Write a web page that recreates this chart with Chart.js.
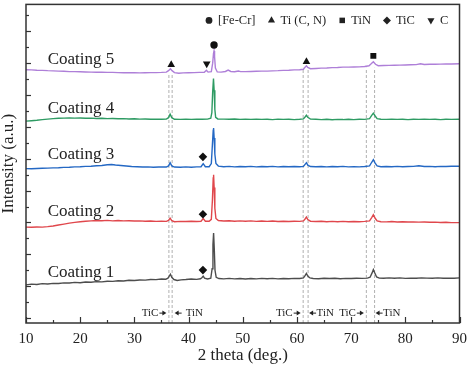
<!DOCTYPE html>
<html>
<head>
<meta charset="utf-8">
<script src="https://cdn.jsdelivr.net/npm/chart.js@4.4.1/dist/chart.umd.min.js"></script>
<style>
  html, body { margin: 0; padding: 0; background: #fff; }
  canvas { display: block; }
</style>
</head>
<body>
<canvas id="xrdChart" width="474" height="366"></canvas>
<script>
// XRD patterns, [2theta, intensity (a.u., stacked offset)]
const coating1 = [[10,2.08],[11,2.13],[12,2.11],[13,2.16],[14,2.14],[15,2.18],[16,2.17],[17,2.21],[18,2.2],[19,2.24],[20,2.22],[21,2.26],[22,2.25],[23,2.29],[24,2.27],[25,2.31],[26,2.3],[27,2.34],[28,2.33],[29,2.37],[30,2.36],[31,2.39],[32,2.38],[33,2.42],[34,2.41],[35,2.45],[35.8,2.44],[36.2,2.5],[36.45,2.64],[36.65,2.75],[36.9,2.56],[37.3,2.42],[37.9,2.36],[38.6,2.4],[39.5,2.42],[40.5,2.45],[41.5,2.43],[42.2,2.47],[42.5,2.55],[42.7,2.63],[42.95,2.5],[43.5,2.45],[44.1,2.5],[44.35,3.1],[44.5,4.6],[44.62,5.34],[44.74,4.4],[44.88,3.0],[45.1,2.56],[45.6,2.48],[46.5,2.46],[47.5,2.49],[48.5,2.46],[49.5,2.48],[50.5,2.45],[51.5,2.48],[52.5,2.46],[53.5,2.49],[54.5,2.47],[55.5,2.49],[56.5,2.46],[57.5,2.48],[58.5,2.47],[59.5,2.49],[60.5,2.48],[61.2,2.52],[61.5,2.66],[61.75,2.8],[62.0,2.64],[62.4,2.52],[63,2.48],[64,2.47],[65,2.5],[66,2.48],[67,2.5],[68,2.47],[69,2.49],[70,2.48],[71,2.5],[72,2.49],[73,2.51],[73.5,2.56],[73.85,2.82],[74.1,3.04],[74.35,2.84],[74.7,2.58],[75.2,2.51],[76,2.5],[77,2.52],[78,2.5],[79,2.52],[80,2.49],[81,2.51],[82,2.5],[83,2.52],[84,2.51],[85,2.5],[86,2.52],[87,2.5],[88,2.51],[89,2.5],[90,2.52]];
const coating2 = [[10,5.71],[11,5.7],[12,5.72],[13,5.71],[14,5.74],[15,5.78],[16,5.84],[17,5.9],[18,5.96],[19,6.01],[20,6.05],[21,6.08],[22,6.1],[23,6.12],[24,6.11],[25,6.13],[26,6.1],[27,6.12],[28,6.1],[29,6.11],[30,6.09],[31,6.1],[32,6.08],[33,6.09],[34,6.07],[35,6.08],[35.9,6.07],[36.3,6.13],[36.6,6.27],[36.9,6.12],[37.4,6.05],[38.5,6.07],[39.5,6.06],[40.5,6.08],[41.5,6.06],[42.3,6.08],[42.7,6.24],[43.1,6.08],[43.8,6.08],[44.2,6.2],[44.4,7.4],[44.55,8.8],[44.62,9.0],[44.72,8.2],[44.85,6.9],[45.05,6.25],[45.5,6.12],[46.5,6.09],[47.5,6.11],[48.5,6.08],[49.5,6.1],[50.5,6.08],[51.5,6.1],[52.5,6.07],[53.5,6.09],[54.5,6.07],[55.5,6.09],[56.5,6.06],[57.5,6.08],[58.5,6.06],[59.5,6.08],[60.5,6.07],[61.2,6.1],[61.5,6.22],[61.75,6.34],[62.0,6.18],[62.5,6.08],[63.5,6.06],[64.5,6.08],[65.5,6.05],[66.5,6.07],[67.5,6.05],[68.5,6.07],[69.5,6.05],[70.5,6.06],[71.5,6.05],[72.5,6.07],[73.4,6.1],[73.8,6.3],[74.1,6.49],[74.4,6.28],[74.8,6.1],[75.5,6.05],[76.5,6.04],[77.5,6.06],[78.5,6.03],[79.5,6.05],[80.5,6.03],[81.5,6.04],[82.5,6.02],[83.5,6.03],[84.5,6.01],[85.5,6.02],[86.5,6.0],[87.5,6.01],[88.5,5.99],[90,5.99]];
const coating3 = [[10,9.38],[11,9.37],[12,9.39],[13,9.4],[14,9.41],[15,9.43],[16,9.44],[17,9.46],[18,9.47],[19,9.49],[20,9.5],[21,9.52],[22,9.53],[23,9.56],[24,9.58],[25,9.62],[25.8,9.64],[26.5,9.61],[27.5,9.58],[28.5,9.55],[29.5,9.51],[30.5,9.5],[31.5,9.48],[32.5,9.49],[33.5,9.47],[34.5,9.48],[35.9,9.48],[36.3,9.55],[36.6,9.75],[36.9,9.55],[37.4,9.48],[38.5,9.47],[39.5,9.49],[40.5,9.47],[41.5,9.49],[42.3,9.5],[42.7,9.69],[43.1,9.5],[43.8,9.5],[44.2,9.7],[44.4,10.9],[44.55,11.8],[44.62,11.93],[44.72,11.3],[44.85,10.3],[45.05,9.7],[45.5,9.54],[46.5,9.5],[47.5,9.52],[48.5,9.49],[49.5,9.51],[50.5,9.5],[51.5,9.52],[52.5,9.49],[53.5,9.51],[54.5,9.5],[55.5,9.52],[56.5,9.49],[57.5,9.51],[58.5,9.5],[59.5,9.51],[60.5,9.5],[61.2,9.52],[61.5,9.65],[61.75,9.75],[62.0,9.6],[62.5,9.51],[63.5,9.5],[64.5,9.51],[65.5,9.49],[66.5,9.51],[67.5,9.5],[68.5,9.52],[69.5,9.49],[70.5,9.5],[71.5,9.49],[72.5,9.51],[73.4,9.55],[73.8,9.78],[74.1,9.94],[74.4,9.74],[74.8,9.55],[75.5,9.5],[76.5,9.51],[77.5,9.5],[78.5,9.52],[79.5,9.5],[80.5,9.51],[81.5,9.52],[82.5,9.56],[83.5,9.51],[84.5,9.52],[85.5,9.5],[86.5,9.52],[87.5,9.51],[88.5,9.53],[90,9.53]];
const coating4 = [[10,12.36],[11,12.39],[12,12.42],[13,12.46],[14,12.49],[15,12.52],[16,12.54],[17,12.55],[18,12.56],[19,12.55],[20,12.56],[21,12.54],[22,12.55],[23,12.53],[24,12.54],[25,12.52],[26,12.53],[27,12.51],[28,12.52],[29,12.5],[30,12.51],[31,12.49],[32,12.5],[33,12.48],[34,12.49],[35,12.48],[35.9,12.49],[36.3,12.58],[36.6,12.8],[36.9,12.58],[37.4,12.48],[38.5,12.47],[39.5,12.49],[40.5,12.47],[41.5,12.49],[42.5,12.48],[43.5,12.49],[44.1,12.55],[44.3,12.9],[44.45,14.2],[44.6,15.03],[44.72,14.3],[44.85,13.1],[45.0,12.6],[45.4,12.5],[46.5,12.49],[47.5,12.48],[48.5,12.5],[49.5,12.47],[50.5,12.49],[51.5,12.47],[52.5,12.49],[53.5,12.47],[54.5,12.48],[55.5,12.46],[56.5,12.49],[57.5,12.47],[58.5,12.48],[59.5,12.46],[60.5,12.48],[61.2,12.5],[61.5,12.62],[61.75,12.73],[62.0,12.6],[62.5,12.49],[63.5,12.48],[64.5,12.46],[65.5,12.48],[66.5,12.45],[67.5,12.47],[68.5,12.46],[69.5,12.48],[70.5,12.46],[71.5,12.48],[72.5,12.47],[73.4,12.52],[73.8,12.72],[74.1,12.86],[74.4,12.7],[74.8,12.52],[75.5,12.48],[76.5,12.47],[77.5,12.49],[78.5,12.47],[79.5,12.48],[80.5,12.46],[81.5,12.48],[82.5,12.47],[83.5,12.49],[84.5,12.47],[85.5,12.48],[86.5,12.46],[87.5,12.48],[88.5,12.47],[90,12.48]];
const coating5 = [[10,15.59],[11,15.58],[12,15.56],[13,15.55],[14,15.53],[15,15.52],[16,15.5],[17,15.49],[18,15.47],[19,15.47],[20,15.46],[21,15.45],[22,15.44],[23,15.43],[24,15.43],[25,15.42],[26,15.42],[27,15.41],[28,15.4],[29,15.41],[30,15.4],[31,15.39],[32,15.4],[33,15.41],[34,15.41],[35,15.42],[35.9,15.44],[36.3,15.53],[36.65,15.65],[36.95,15.53],[37.4,15.41],[38.2,15.37],[39,15.39],[40,15.4],[41,15.41],[42,15.42],[42.9,15.43],[43.3,15.56],[43.6,15.44],[44.2,15.47],[44.45,16.0],[44.6,16.6],[44.7,16.77],[44.8,16.4],[44.95,15.7],[45.3,15.45],[46,15.44],[46.8,15.48],[47.3,15.57],[47.8,15.48],[48.5,15.46],[49.2,15.51],[49.6,15.47],[50.5,15.47],[51.5,15.48],[52.5,15.49],[53.5,15.5],[54.5,15.5],[55.5,15.52],[56.5,15.53],[57.5,15.55],[58.5,15.56],[59.5,15.58],[60.5,15.59],[61.2,15.62],[61.5,15.75],[61.75,15.84],[62.0,15.73],[62.5,15.65],[63.5,15.67],[64.5,15.69],[65.5,15.7],[66.5,15.72],[67.5,15.73],[68.5,15.75],[69.5,15.75],[70.5,15.76],[71.5,15.77],[72.5,15.79],[73.3,15.84],[73.7,15.96],[74.1,16.09],[74.5,15.93],[75,15.84],[76,15.85],[77,15.86],[78,15.87],[79,15.88],[80,15.89],[81,15.9],[82,15.91],[82.8,15.96],[83.5,15.92],[84.5,15.93],[85.5,15.93],[86.5,15.94],[87.5,15.95],[88.5,15.95],[90,15.96]];

const coatingNames = ['Coating 1', 'Coating 2', 'Coating 3', 'Coating 4', 'Coating 5'];
const coatingColors = ['#4d4d4d', '#e0474c', '#2468c4', '#2e9b63', '#ae7fd8'];

// phase markers above the peaks
const phaseNames = ['[Fe-Cr]', 'Ti (C, N)', 'TiN', 'TiC', 'C'];
const feCrMarks = [[44.7, 17.14]];
const tiCNMarks = [[36.8, 15.9], [61.75, 16.09]];
const tiNMarks = [[74.1, 16.46]];
const tiCMarks = [[42.65, 10.12], [42.65, 6.52], [42.65, 3.01]];
const cMarks = [[43.35, 15.96]];

// reference positions of TiC / TiN (dashed guides), and how high they reach
const refTheta = [36.37, 36.97, 61.15, 62.06, 72.81, 74.33];
const refTop = [15.28, 15.28, 15.71, 15.71, 15.71, 15.71];
const refNames = ['TiC', 'TiN', 'TiC', 'TiN', 'TiC', 'TiN'];

const serif = '"Liberation Serif", "Times New Roman", serif';
const toXY = arr => arr.map(p => ({ x: p[0], y: p[1] }));

const datasets = [];
[coating1, coating2, coating3, coating4, coating5].forEach((d, i) => {
    datasets.push({
        label: coatingNames[i],
        data: toXY(d),
        showLine: true,
        borderColor: coatingColors[i],
        borderWidth: 1.4,
        pointRadius: 0,
        order: 5
    });
});
refTheta.forEach((t, i) => {
    datasets.push({
        label: refNames[i] + ' ref',
        data: [{ x: t, y: -0.31 }, { x: t, y: refTop[i] }],
        showLine: true,
        borderColor: '#b0b0b0',
        borderWidth: 1,
        borderDash: [3, 2],
        pointRadius: 0,
        order: 10
    });
});
const markerDefs = [
    { data: feCrMarks, style: 'circle', r: 3.7, rot: 0 },
    { data: tiCNMarks, style: 'triangle', r: 4.4, rot: 0 },
    { data: tiNMarks, style: 'rect', r: 4.2, rot: 0 },
    { data: tiCMarks, style: 'rectRot', r: 4.3, rot: 0 },
    { data: cMarks, style: 'triangle', r: 4.4, rot: 180 }
];
markerDefs.forEach((m, i) => {
    datasets.push({
        label: phaseNames[i],
        data: toXY(m.data),
        showLine: false,
        pointStyle: m.style,
        pointRadius: m.r,
        pointRotation: m.rot,
        pointBackgroundColor: '#111',
        pointBorderWidth: 0,
        order: 0
    });
});

// labels for each trace, placed at left end
const labelAt = { theta: 14.0, y: [2.86, 6.71, 10.25, 13.17, 16.21] };

function drawArrow(ctx, tipX, y, dir) {
    const tail = tipX - dir * 7;
    ctx.beginPath();
    ctx.moveTo(tail, y);
    ctx.lineTo(tipX - dir * 3, y);
    ctx.stroke();
    ctx.beginPath();
    ctx.moveTo(tipX, y);
    ctx.lineTo(tipX - dir * 4, y - 2.5);
    ctx.lineTo(tipX - dir * 4, y + 2.5);
    ctx.closePath();
    ctx.fill();
    return tail;
}

const xrdDecor = {
    id: 'xrdDecor',
    afterDraw(chart) {
        const ctx = chart.ctx;
        const xs = chart.scales.x, ys = chart.scales.y;
        const a = chart.chartArea;
        ctx.save();
        ctx.strokeStyle = '#333';
        ctx.fillStyle = '#222';
        // inward ticks
        ctx.lineWidth = 1.2;
        for (let v = 10; v <= 90; v += 5) {
            const px = Math.round(xs.getPixelForValue(v)) + 0.5;
            const len = v % 10 === 0 ? 6 : 3;
            ctx.beginPath();
            ctx.moveTo(px, a.bottom);
            ctx.lineTo(px, a.bottom - len);
            ctx.stroke();
        }
        for (let v = 0; v <= 19; v++) {
            const py = Math.round(ys.getPixelForValue(v)) + 0.5;
            const len = v % 2 === 0 ? 5 : 3;
            ctx.beginPath();
            ctx.moveTo(a.left, py);
            ctx.lineTo(a.left + len, py);
            ctx.stroke();
        }
        // frame
        ctx.lineWidth = 1.5;
        ctx.strokeRect(a.left, a.top, a.right - a.left, a.bottom - a.top);

        // trace names
        ctx.font = '17px ' + serif;
        ctx.textBaseline = 'middle';
        ctx.textAlign = 'left';
        coatingNames.forEach((n, i) => {
            ctx.fillText(n, xs.getPixelForValue(labelAt.theta), ys.getPixelForValue(labelAt.y[i]));
        });

        // phase legend
        ctx.font = '12.5px ' + serif;
        let lx = a.left + 183;
        const ly = a.top + 16;
        markerDefs.forEach((m, i) => {
            Chart.helpers.drawPoint(ctx, { pointStyle: m.style, radius: m.r - 0.3, rotation: m.rot, borderWidth: 0 }, lx, ly);
            ctx.fillText(phaseNames[i], lx + 9, ly);
            lx += 9 + ctx.measureText(phaseNames[i]).width + 16;
        });

        // TiC -> | <- TiN notes at the bottom
        ctx.font = '11px ' + serif;
        ctx.lineWidth = 1;
        ctx.strokeStyle = '#222';
        const ny = ys.getPixelForValue(0.31);
        refTheta.forEach((t, i) => {
            const px = xs.getPixelForValue(t);
            if (i % 2 === 0) {
                const tail = drawArrow(ctx, px - 2.5, ny, 1);
                ctx.textAlign = 'right';
                ctx.fillText(refNames[i], tail - 1, ny);
            } else {
                const tail = drawArrow(ctx, px + (i === 1 ? 2.5 : 1), ny, -1);
                ctx.textAlign = 'left';
                ctx.fillText(refNames[i], tail + (i === 1 ? 4 : 0.5), ny);
            }
        });
        ctx.restore();
    }
};

new Chart(document.getElementById('xrdChart'), {
    type: 'scatter',
    data: { datasets },
    options: {
        responsive: false,
        devicePixelRatio: 1,
        animation: false,
        layout: { padding: { top: 1, right: 9, left: 0, bottom: 0 } },
        plugins: { legend: { display: false }, tooltip: { enabled: false } },
        scales: {
            x: {
                type: 'linear',
                min: 10,
                max: 90,
                grid: { display: false, drawTicks: false },
                border: { display: false },
                ticks: { stepSize: 10, padding: 7, color: '#222', font: { family: serif, size: 15 } },
                title: { display: true, text: '2 theta (deg.)', color: '#222', padding: 0, font: { family: serif, size: 17 } },
                afterFit: s => { s.height = 43; }
            },
            y: {
                type: 'linear',
                min: -0.31,
                max: 19.69,
                grid: { display: false, drawTicks: false },
                border: { display: false },
                ticks: { display: false },
                title: { display: true, text: 'Intensity (a.u.)', color: '#222', padding: 0, font: { family: serif, size: 17, lineHeight: 1 } },
                afterFit: s => { s.width = 26; }
            }
        }
    },
    plugins: [xrdDecor]
});
</script>
</body>
</html>
